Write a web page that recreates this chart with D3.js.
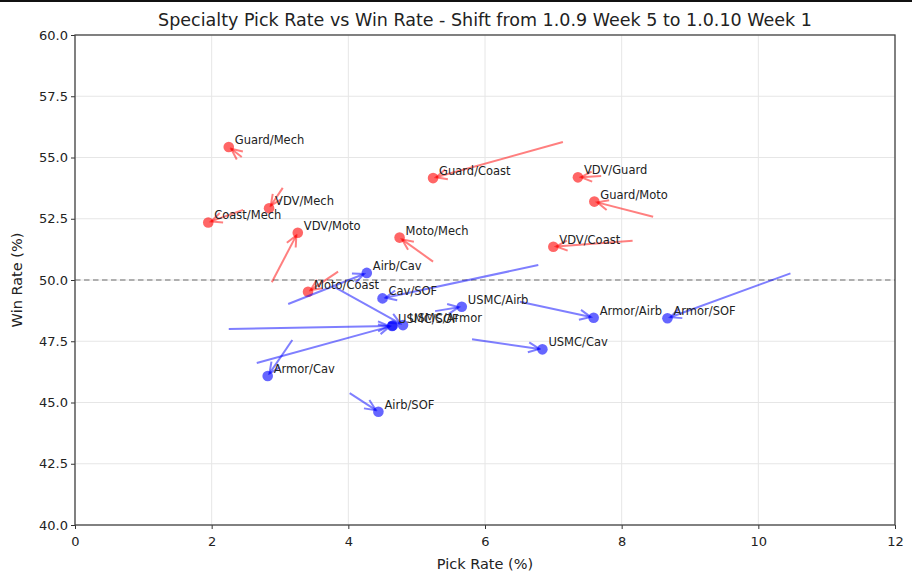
<!DOCTYPE html>
<html>
<head>
<meta charset="utf-8">
<script src="https://cdn.jsdelivr.net/npm/d3@7"></script>
<style>
body { margin: 0; background: #fff; }
text { font-family: "DejaVu Sans", sans-serif; fill: #222; }
.grid line { stroke: #e6e6e6; stroke-width: 1; }
</style>
</head>
<body>
<div id="chart"></div>
<script>
// names, start position (1.0.9 wk5) and end position (1.0.10 wk1)
var redNames = ["Guard/Mech", "Guard/Coast", "VDV/Guard", "Guard/Moto", "VDV/Mech",
                "Coast/Mech", "VDV/Moto", "Moto/Mech", "VDV/Coast", "Moto/Coast"];
var redFromX = [2.44, 7.14, 7.70, 8.46, 3.04, 2.46, 2.88, 5.24, 8.16, 3.85];
var redFromY = [55.02, 55.63, 54.24, 52.58, 53.76, 52.86, 49.91, 50.75, 51.60, 50.34];
var redToX   = [2.25, 5.24, 7.36, 7.60, 2.84, 1.95, 3.26, 4.75, 7.00, 3.41];
var redToY   = [55.43, 54.16, 54.19, 53.20, 52.93, 52.35, 51.93, 51.73, 51.36, 49.52];

var blueNames = ["Airb/Cav", "Cav/SOF", "USMC/SOF", "USMC/Armor", "", "USMC/Airb",
                 "Armor/Airb", "Armor/SOF", "USMC/Cav", "Armor/Cav", "Airb/SOF"];
var blueFromX = [3.12, 6.78, 2.25, 3.80, 2.66, 5.27, 6.51, 10.47, 5.81, 3.18, 4.02];
var blueFromY = [49.02, 50.61, 48.00, 49.71, 46.61, 48.73, 49.11, 50.27, 47.58, 47.55, 45.38];
var blueToX   = [4.27, 4.50, 4.64, 4.80, 4.65, 5.66, 7.59, 8.67, 6.84, 2.82, 4.44];
var blueToY   = [50.29, 49.25, 48.12, 48.16, 48.14, 48.91, 48.46, 48.44, 47.17, 46.08, 44.62];

var xTicks = [0, 2, 4, 6, 8, 10, 12];
var yTicks = [40, 42.5, 45, 47.5, 50, 52.5, 55, 57.5, 60];

var width = 912, height = 580;
var margin = {top: 35, right: 17, bottom: 55, left: 75};

var svg = d3.select("#chart").append("svg")
            .attr("width", width)
            .attr("height", height);

// dark strip at the very top of the screenshot
svg.append("rect").attr("x", 0).attr("y", 0).attr("width", width).attr("height", 2).attr("fill", "#111");

var x = d3.scaleLinear().domain([0, 12]).range([margin.left, width - margin.right]);
var y = d3.scaleLinear().domain([40, 60]).range([height - margin.bottom, margin.top]);

// grid
var grid = svg.append("g").attr("class", "grid");
grid.selectAll(".gx").data(xTicks).enter().append("line")
    .attr("x1", d => x(d)).attr("x2", d => x(d))
    .attr("y1", y(40)).attr("y2", y(60));
grid.selectAll(".gy").data(yTicks).enter().append("line")
    .attr("x1", x(0)).attr("x2", x(12))
    .attr("y1", d => y(d)).attr("y2", d => y(d));

// 50% reference line
svg.append("line")
   .attr("x1", x(0)).attr("x2", x(12))
   .attr("y1", y(50)).attr("y2", y(50))
   .attr("stroke", "#999").attr("stroke-width", 1.3)
   .attr("stroke-dasharray", "5.5,3.5");

// arrow heads
function addMarker(id, color) {
  svg.append("defs").append("marker")
     .attr("id", id)
     .attr("viewBox", "-13 -7 15 14")
     .attr("refX", 0).attr("refY", 0)
     .attr("markerWidth", 15).attr("markerHeight", 14)
     .attr("markerUnits", "userSpaceOnUse")
     .attr("orient", "auto")
     .append("path")
     .attr("d", "M-11,-5 L0,0 L-11,5")
     .attr("fill", "none")
     .attr("stroke", color)
     .attr("stroke-opacity", 0.5)
     .attr("stroke-width", 2);
}
addMarker("headRed", "red");
addMarker("headBlue", "blue");

function drawGroup(names, fx, fy, tx, ty, color, marker) {
  var data = names.map(function(n, i) {
    return {name: n, fx: fx[i], fy: fy[i], tx: tx[i], ty: ty[i]};
  });
  var g = svg.append("g");
  g.selectAll("line").data(data).enter().append("line")
   .each(function(d) {
     var x1 = x(d.fx), y1 = y(d.fy), x2 = x(d.tx), y2 = y(d.ty);
     var len = Math.sqrt((x2 - x1) * (x2 - x1) + (y2 - y1) * (y2 - y1));
     var s = len > 0 ? 3 / len : 0;
     d3.select(this)
       .attr("x1", x1).attr("y1", y1)
       .attr("x2", x2 - (x2 - x1) * s).attr("y2", y2 - (y2 - y1) * s);
   })
   .attr("stroke", color)
   .attr("stroke-opacity", 0.5)
   .attr("stroke-width", 2)
   .attr("marker-end", "url(#" + marker + ")");
  g.selectAll("circle").data(data).enter().append("circle")
   .attr("cx", d => x(d.tx))
   .attr("cy", d => y(d.ty))
   .attr("r", 5.3)
   .attr("fill", color)
   .attr("fill-opacity", 0.6);
  return data;
}

var redData = drawGroup(redNames, redFromX, redFromY, redToX, redToY, "red", "headRed");
var blueData = drawGroup(blueNames, blueFromX, blueFromY, blueToX, blueToY, "blue", "headBlue");

svg.append("g").selectAll("text").data(redData.concat(blueData)).enter().append("text")
   .attr("x", d => x(d.tx) + 6)
   .attr("y", d => y(d.ty) - 3)
   .attr("font-size", 11.5)
   .text(d => d.name);

// axes
var xAxis = svg.append("g")
   .attr("transform", "translate(0," + y(40) + ")")
   .call(d3.axisBottom(x).tickValues(xTicks).tickFormat(d3.format("d")).tickSizeOuter(0).tickSize(4));
var yAxis = svg.append("g")
   .attr("transform", "translate(" + x(0) + ",0)")
   .call(d3.axisLeft(y).tickValues(yTicks).tickFormat(d3.format(".1f")).tickSizeOuter(0).tickSize(4));
[xAxis, yAxis].forEach(function(a) {
  a.select(".domain").remove();
  a.selectAll("line").attr("stroke", "#333");
  a.selectAll("text").attr("font-size", 13).attr("fill", "#333")
   .style("font-family", "'DejaVu Sans', sans-serif");
});
xAxis.selectAll("text").attr("dy", "1.1em");

// frame
svg.append("rect")
   .attr("x", x(0)).attr("y", y(60))
   .attr("width", x(12) - x(0)).attr("height", y(40) - y(60))
   .attr("fill", "none").attr("stroke", "#444").attr("stroke-width", 1.3);

// titles
svg.append("text")
   .attr("x", (x(0) + x(12)) / 2).attr("y", 26)
   .attr("text-anchor", "middle").attr("font-size", 17.5)
   .text("Specialty Pick Rate vs Win Rate - Shift from 1.0.9 Week 5 to 1.0.10 Week 1");
svg.append("text")
   .attr("x", (x(0) + x(12)) / 2).attr("y", 569)
   .attr("text-anchor", "middle").attr("font-size", 14.5)
   .text("Pick Rate (%)");
svg.append("text")
   .attr("transform", "translate(22," + y(50) + ") rotate(-90)")
   .attr("text-anchor", "middle").attr("font-size", 14.5)
   .text("Win Rate (%)");
</script>
</body>
</html>
